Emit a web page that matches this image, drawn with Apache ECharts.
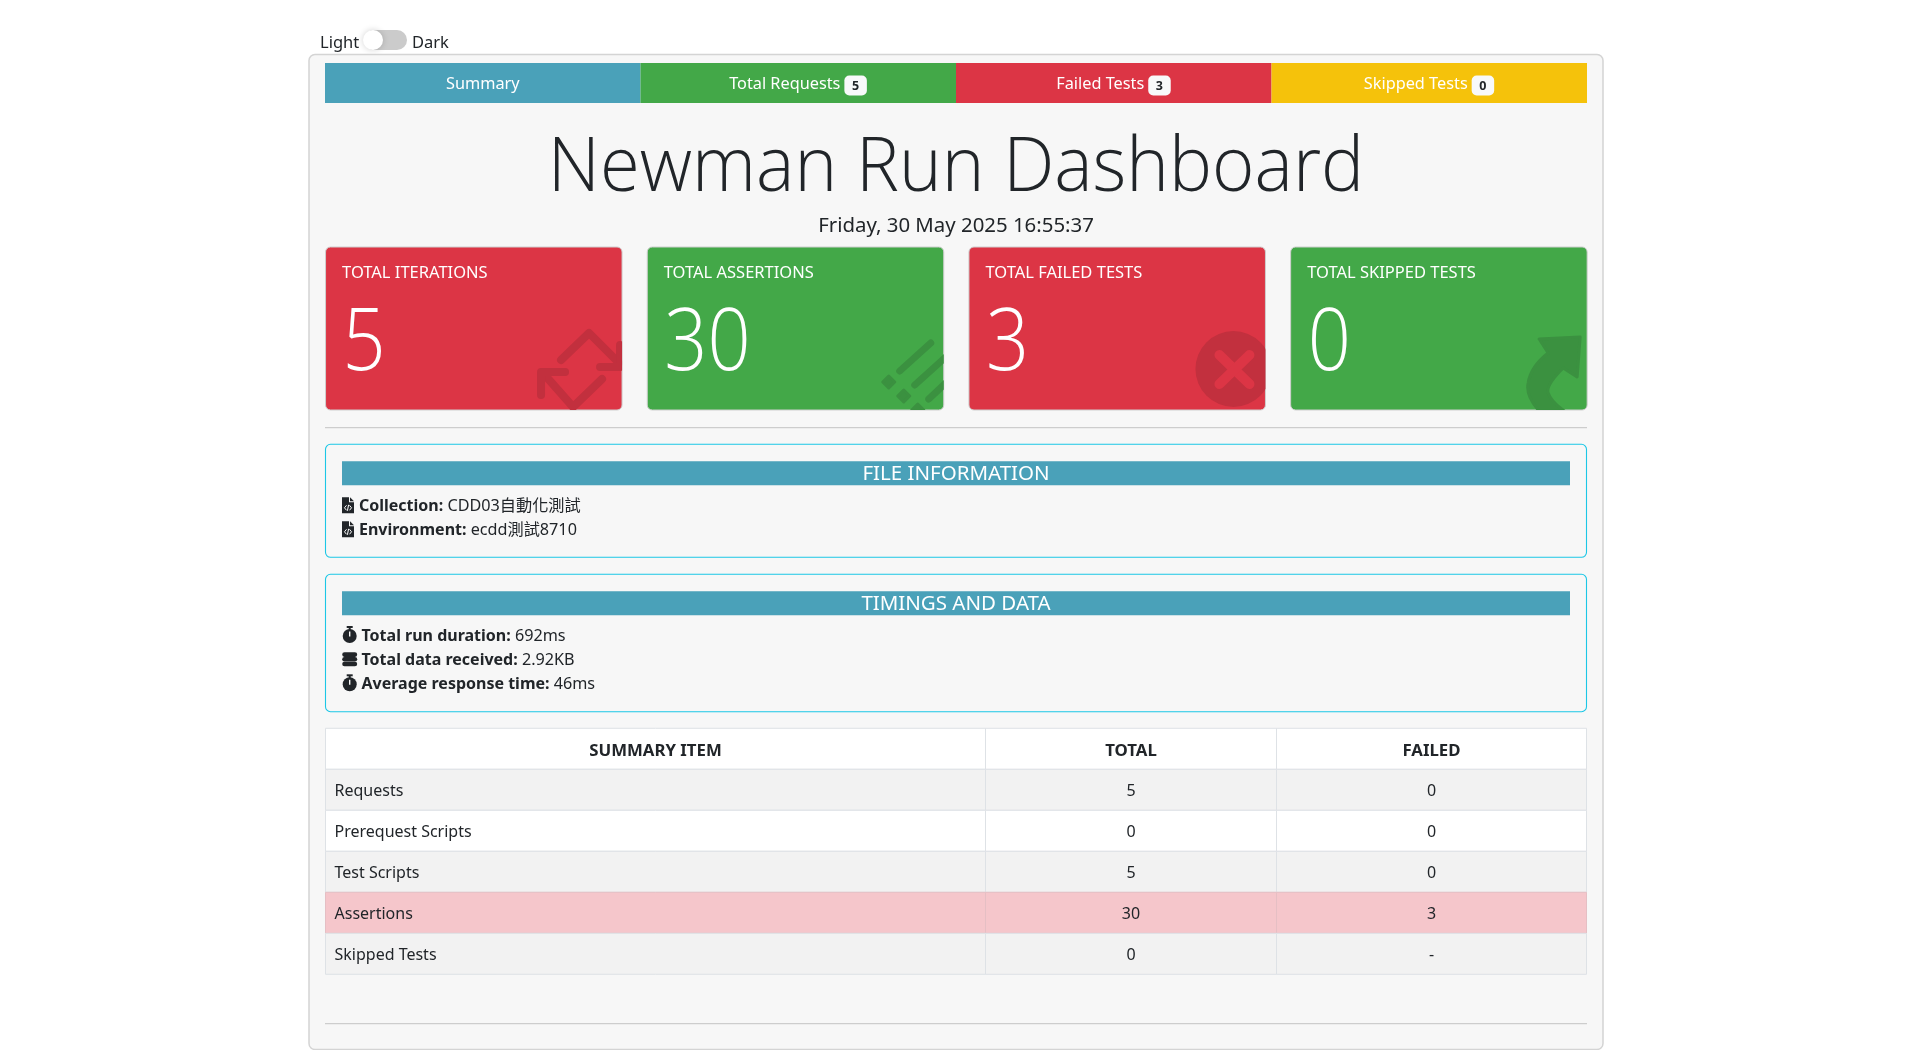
<!DOCTYPE html>
<html>
<head>
<meta charset="utf-8">
<title>Newman Run Dashboard</title>
<script src="https://cdn.jsdelivr.net/npm/echarts@6/dist/echarts.min.js"></script>
<style>
  html, body { margin: 0; padding: 0; background: #fff; }
  #chart { width: 1912px; height: 1050px; }
</style>
</head>
<body>
<div id="chart"></div>
<script>
// tabs
var navLabels = ['Summary', 'Total Requests', 'Failed Tests', 'Skipped Tests'];
var navBadges = [null, 5, 3, 0];
var navColors = ['#4aa1b9', '#43a848', '#dc3545', '#f5c20b'];

// kpi cards
var kpiTitles = ['TOTAL ITERATIONS', 'TOTAL ASSERTIONS', 'TOTAL FAILED TESTS', 'TOTAL SKIPPED TESTS'];
var kpiValues = [5, 30, 3, 0];
var kpiColors = ['#dc3545', '#43a848', '#dc3545', '#43a848'];

// info boxes
var fileRows = [['Collection:', 'CDD03自動化測試'], ['Environment:', 'ecdd測試8710']];
var timingRows = [['Total run duration:', '692ms'], ['Total data received:', '2.92KB'], ['Average response time:', '46ms']];

// summary table
var tableHeaders = ['SUMMARY ITEM', 'TOTAL', 'FAILED'];
var tableItems = ['Requests', 'Prerequest Scripts', 'Test Scripts', 'Assertions', 'Skipped Tests'];
var tableTotals = [5, 0, 5, 30, 0];
var tableFailed = [0, 0, 0, 3, '-'];
var tableColEdges = [0, 660, 951, 1261];

var SANS = '"Noto Sans", "Noto Sans CJK TC", sans-serif';
var LIGHT = '"Open Sans", "Noto Sans", sans-serif';
var DARK = '#212529';
var TEAL = '#4aa1b9';
var RULE = '#cdcdcd';

var measure = document.createElement('canvas').getContext('2d');
function textWidth(t, font) {
  measure.font = font;
  return measure.measureText(t).width;
}

// watermark icons, drawn from the bottom right corner of the card
function strokeIcon(paths, color, width) {
  return paths.map(function (d) {
    return { type: 'path', shape: { pathData: d },
      style: { fill: null, stroke: color, lineWidth: width, lineCap: 'round', lineJoin: 'round' } };
  });
}
function fillIcon(d, color) {
  return { type: 'path', shape: { pathData: d },
    style: { fill: color, stroke: color, lineWidth: 3, lineJoin: 'round' } };
}
var iconBuilders = [
  function (c) {
    return strokeIcon([
      'M-61 -50 L-33 -77 L-3 -47',
      'M-2 -65 L-2 -43 L-22 -43',
      'M-20 -31 L-49 -3 L-79 -37',
      'M-81 -15 L-81 -38 L-57 -38'
    ], c, 8);
  },
  function (c) {
    return strokeIcon([
      'M-44 -39 L-13 -67',
      'M-29 -25 L2 -53',
      'M-15 -11 L2 -27'
    ], c, 7).concat([
      fillIcon('M-55 -34 L-49 -28 L-55 -22 L-61 -28 Z', c),
      fillIcon('M-40 -20 L-34 -14 L-40 -8 L-46 -14 Z', c),
      fillIcon('M-26 -6 L-20 0 L-26 6 L-32 0 Z', c)
    ]);
  },
  function (c, base) {
    return [
      { type: 'circle', shape: { cx: -32, cy: -41, r: 38 }, style: { fill: c } }
    ].concat(strokeIcon(['M-46 -55 L-16 -26', 'M-16 -55 L-46 -26'], base, 10));
  },
  function (c) {
    return [fillIcon('M-48 -71 L-7 -73 L-10 -33 L-24 -42 C-34 -32 -41 -23 -39 -17 C-36 -8 -28 -3 -23 1 L-48 1 C-56 -8 -61 -18 -59 -27 C-57 -40 -48 -50 -39 -57 Z', c)];
  }
];
var iconShade = ['#c2303e', '#3b9140', '#c2303e', '#3b9140'];

function renderNav(params, api) {
  var i = api.value(0);
  var c = api.coord([i, 0]);
  var band = api.size([1, 0])[0];
  var top = params.coordSys.y, h = params.coordSys.height;
  var children = [{ type: 'rect', shape: { x: c[0] - band / 2, y: top, width: band, height: h }, style: { fill: navColors[i] } }];
  var font = '16.3px ' + SANS;
  var w = textWidth(navLabels[i], font);
  var badge = navBadges[i];
  var total = badge === null ? w : w + 27;
  var x = c[0] - total / 2;
  children.push({ type: 'text', style: { text: navLabels[i], x: x, y: top + 21, fill: '#fff', font: font, align: 'left', verticalAlign: 'middle' } });
  if (badge !== null) {
    children.push({ type: 'rect', shape: { x: x + w + 4, y: top + 12.5, width: 22.5, height: 20, r: 5 }, style: { fill: '#f8f9fa' } });
    children.push({ type: 'text', style: { text: String(badge), x: x + w + 15.2, y: top + 23, fill: DARK, font: '700 12.5px ' + SANS, align: 'center', verticalAlign: 'middle' } });
  }
  return { type: 'group', children: children };
}

function renderKpi(params, api) {
  var i = api.value(0);
  var c = api.coord([i, 0]);
  var top = params.coordSys.y, h = params.coordSys.height;
  var w = 296.5;
  var x = c[0] - 148.5;
  return {
    type: 'group',
    children: [
      { type: 'rect', shape: { x: x, y: top, width: w, height: h, r: 5 }, style: { fill: kpiColors[i], stroke: '#cfcfcf', lineWidth: 1 } },
      { type: 'text', style: { text: kpiTitles[i], x: x + 16.5, y: top + 26, fill: '#fff', font: '16.5px ' + SANS, align: 'left', verticalAlign: 'middle' } },
      { type: 'text', x: x + 17, y: top + 98, scaleX: 0.88, style: { text: String(api.value(1)), x: 0, y: 0, fill: '#fff', font: '300 86px ' + LIGHT, align: 'left', verticalAlign: 'middle' } },
      {
        type: 'group', x: x + w, y: top + h,
        clipPath: { type: 'rect', shape: { x: -w, y: -h, width: w, height: h, r: 5 } },
        children: iconBuilders[i](iconShade[i], kpiColors[i])
      }
    ]
  };
}

function renderTable(params, api) {
  var r = api.value(0);
  var y = api.coord([0, r])[1];
  var rowH = api.size([0, 1])[1];
  var isHeader = r === 0;
  var fill = isHeader ? '#fff' : (tableItems[r - 1] === 'Assertions' ? '#f5c6cb' : (r % 2 ? '#f2f2f2' : '#fff'));
  var border = tableItems[r - 1] === 'Assertions' ? '#e5bfc4' : '#dee2e6';
  var cells = isHeader ? tableHeaders : [tableItems[r - 1], tableTotals[r - 1], tableFailed[r - 1]];
  var children = [];
  cells.forEach(function (cell, k) {
    var x0 = api.coord([tableColEdges[k], r])[0];
    var x1 = api.coord([tableColEdges[k + 1], r])[0];
    children.push({ type: 'rect', shape: { x: x0, y: y - rowH / 2, width: x1 - x0, height: rowH }, style: { fill: fill, stroke: border, lineWidth: 1 } });
    var left = !isHeader && k === 0;
    children.push({ type: 'text', style: {
      text: String(cell), x: left ? x0 + 9 : (x0 + x1) / 2, y: y + 2,
      fill: DARK, font: (isHeader ? '700 16.8px ' : '16px ') + SANS,
      align: left ? 'left' : 'center', verticalAlign: 'middle'
    } });
  });
  return { type: 'group', children: children };
}

// small helpers for the graphic layer
function rule(y) {
  return { type: 'rect', silent: true, shape: { x: 325, y: y, width: 1262, height: 1.2 }, style: { fill: RULE } };
}
function infoBox(title, top, h) {
  return [
    { type: 'rect', shape: { x: 325.5, y: top, width: 1261, height: h, r: 5 }, style: { fill: '#f7f7f7', stroke: '#1cc7e6', lineWidth: 1.1 } },
    { type: 'rect', shape: { x: 342, y: top + 17, width: 1228, height: 24 }, style: { fill: TEAL } },
    { type: 'text', style: { text: title, x: 956, y: top + 29.5, fill: '#fff', font: '20.5px ' + SANS, align: 'center', verticalAlign: 'middle' } }
  ];
}
function infoRow(row, x, y) {
  return { type: 'text', style: {
    text: '{b|' + row[0] + ' }{r|' + row[1] + '}', x: x, y: y + 1, verticalAlign: 'middle',
    rich: {
      b: { font: '700 16px ' + SANS, fill: DARK },
      r: { font: '400 16.2px ' + SANS, fill: DARK }
    }
  } };
}
function codeMark(d) {
  return { type: 'polyline', shape: { points: d }, style: { fill: null, stroke: '#fff', lineWidth: 1 } };
}
function fileIcon(y) {
  return { type: 'group', x: 342, y: y - 8, children: [
    { type: 'polygon', shape: { points: [[0, 0], [7, 0], [7, 5], [12, 5], [12, 16], [0, 16]] }, style: { fill: DARK } },
    { type: 'polygon', shape: { points: [[8, 0], [12, 4], [8, 4]] }, style: { fill: DARK } },
    codeMark([[4.5, 8], [2.5, 10.5], [4.5, 13]]),
    codeMark([[7.5, 8], [9.5, 10.5], [7.5, 13]]),
    codeMark([[6.6, 7.5], [5.4, 13.5]])
  ] };
}
function watchIcon(y) {
  return { type: 'group', x: 349.7, y: y, children: [
    { type: 'circle', shape: { cx: 0, cy: 1, r: 7 }, style: { fill: DARK } },
    { type: 'rect', shape: { x: -3, y: -9, width: 6, height: 2 }, style: { fill: DARK } },
    { type: 'rect', shape: { x: -1, y: -8, width: 2, height: 3 }, style: { fill: DARK } },
    { type: 'rect', shape: { x: -0.7, y: -3.5, width: 1.4, height: 5 }, style: { fill: '#f7f7f7' } }
  ] };
}
function dbIcon(y) {
  var kids = [];
  [-7, -2.3, 2.4].forEach(function (d) {
    kids.push({ type: 'rect', shape: { x: -7.5, y: d, width: 15, height: 4.6, r: 2.3 }, style: { fill: DARK } });
  });
  return { type: 'group', x: 349.7, y: y, children: kids };
}

var graphics = [
  { type: 'text', style: { text: 'Light', x: 320, y: 43, fill: DARK, font: '16.5px ' + SANS, verticalAlign: 'middle' } },
  { type: 'rect', shape: { x: 364, y: 30, width: 43, height: 20, r: 10 }, style: { fill: '#cbcbcb' } },
  { type: 'circle', shape: { cx: 373, cy: 40, r: 10 }, style: { fill: '#fff', shadowBlur: 6, shadowColor: 'rgba(0,0,0,0.18)' } },
  { type: 'text', style: { text: 'Dark', x: 412, y: 43, fill: DARK, font: '16.5px ' + SANS, verticalAlign: 'middle' } },
  { type: 'rect', shape: { x: 309, y: 54.5, width: 1294, height: 995, r: 6 }, style: { fill: '#f7f7f7', stroke: '#d4d4d4', lineWidth: 1.5 } },
  { type: 'text', x: 956, y: 170, scaleX: 0.965, style: { text: 'Newman Run Dashboard', x: 0, y: 0, fill: DARK, font: '300 75px ' + LIGHT, align: 'center', verticalAlign: 'middle' } },
  { type: 'text', style: { text: 'Friday, 30 May 2025 16:55:37', x: 956, y: 226, fill: DARK, font: '20.4px ' + SANS, align: 'center', verticalAlign: 'middle' } },
  rule(427),
  rule(1023)
].concat(infoBox('FILE INFORMATION', 444.3, 113), infoBox('TIMINGS AND DATA', 574.3, 137.4));

[505.3, 529.3].forEach(function (y, i) {
  graphics.push(fileIcon(y));
  graphics.push(infoRow(fileRows[i], 359, y));
});
[635, 659.3, 683.3].forEach(function (y, i) {
  graphics.push(i === 1 ? dbIcon(y) : watchIcon(y));
  graphics.push(infoRow(timingRows[i], 361.5, y));
});

var hiddenCat = function (gridIndex, data) {
  return { type: 'category', gridIndex: gridIndex, data: data, show: false };
};
var hiddenVal = function (gridIndex, max) {
  return { type: 'value', gridIndex: gridIndex, min: 0, max: max, show: false };
};

var rowNames = ['header'].concat(tableItems);
var option = {
  animation: false,
  backgroundColor: '#fff',
  grid: [
    { left: 325, top: 63, width: 1262, height: 40 },
    { left: 313.2, top: 247, width: 1286.8, height: 163 },
    { left: 325.5, top: 728.3, width: 1261, height: 246 }
  ],
  xAxis: [hiddenCat(0, navLabels), hiddenCat(1, kpiTitles), hiddenVal(2, 1261)],
  yAxis: [hiddenVal(0, 1), hiddenVal(1, 1), { type: 'category', gridIndex: 2, data: rowNames, inverse: true, show: false }],
  graphic: { elements: graphics.map(function (g) { return Object.assign({ z: -1 }, g); }) },
  series: [
    { type: 'custom', xAxisIndex: 0, yAxisIndex: 0, clip: false, silent: true, z: 5, renderItem: renderNav,
      data: navLabels.map(function (n, i) { return [i, 0]; }) },
    { type: 'custom', xAxisIndex: 1, yAxisIndex: 1, clip: false, silent: true, z: 5, renderItem: renderKpi,
      data: kpiValues.map(function (v, i) { return [i, v]; }) },
    { type: 'custom', xAxisIndex: 2, yAxisIndex: 2, clip: false, silent: true, z: 5, renderItem: renderTable,
      data: rowNames.map(function (n, i) { return [i, i]; }), encode: { y: 0 } }
  ]
};

var chart = echarts.init(document.getElementById('chart'));
chart.setOption(option);
</script>
</body>
</html>
